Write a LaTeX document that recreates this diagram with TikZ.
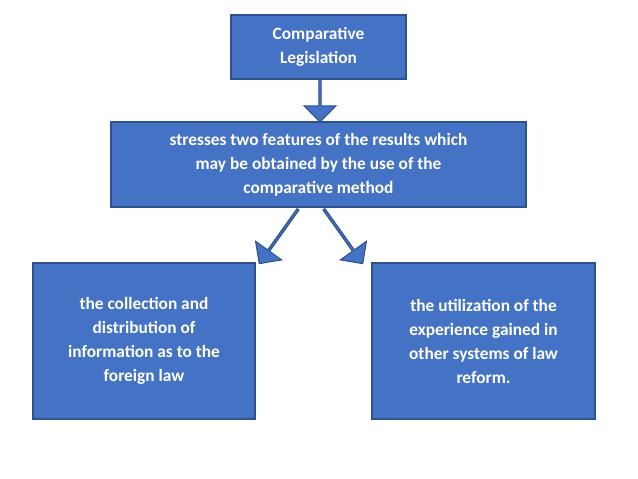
\documentclass[tikz,border=0pt]{standalone}
\usepackage{fontspec}
\setmainfont{Carlito}
\usetikzlibrary{shapes.arrows}
\definecolor{bfill}{HTML}{4472C4}
\definecolor{bdraw}{HTML}{2F528F}
\begin{document}
\begin{tikzpicture}[x=0.75pt,y=-0.75pt,
  box/.style={draw=bdraw,fill=bfill,line width=0.8pt,text=white,font=\bfseries\fontsize{13}{18}\selectfont,align=center,inner sep=0pt},
  barrow/.style={single arrow,draw=bdraw,fill=bfill,line width=0.8pt,minimum height=#1,single arrow head extend=5pt,minimum width=24pt,inner sep=0pt}]
\useasboundingbox (0,0) rectangle (638,478);
\node[box,minimum width=175*0.75pt,minimum height=64*0.75pt] (top) at (318.5,47) {Comparative\\Legislation};
\node[box,minimum width=415*0.75pt,minimum height=85*0.75pt] (mid) at (318.5,164.5) {stresses two features of the results which\\may be obtained by the use of the\\comparative method};
\node[box,minimum width=222*0.75pt,minimum height=156*0.75pt] (left) at (144,341) {the collection and\\distribution of\\information as to the\\foreign law};
\node[box,minimum width=223*0.75pt,minimum height=156*0.75pt] (right) at (483.5,341) {the utilization of the\\experience gained in\\other systems of law\\reform.};
\node[barrow=32pt,shape border rotate=270] (a1) at (320,100) {};
\node[barrow=50pt,rotate=234.5] (a2) at (279,236) {};
\node[barrow=50pt,rotate=-54.5] (a3) at (343,236) {};
\end{tikzpicture}
\end{document}
